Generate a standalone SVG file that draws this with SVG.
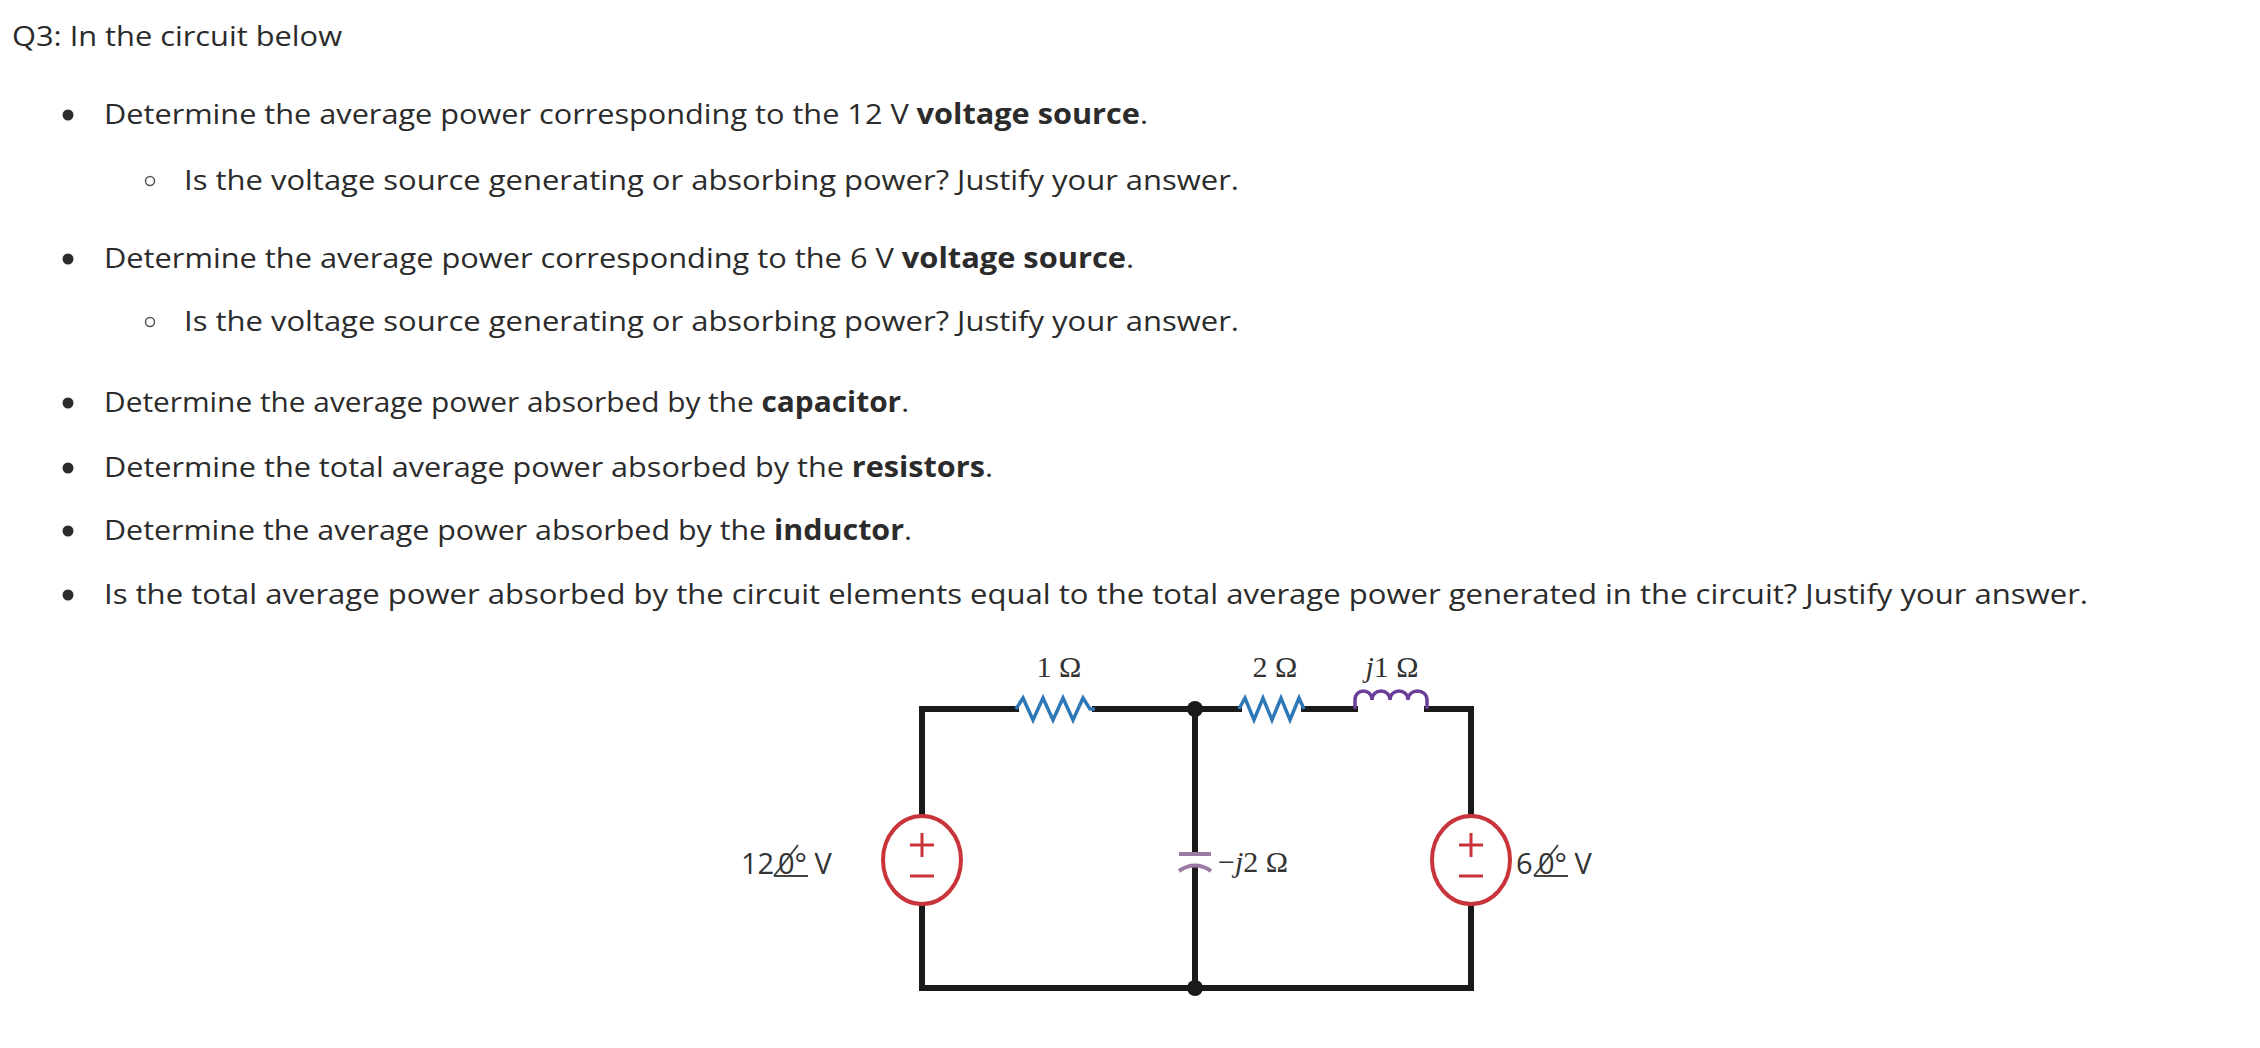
<svg xmlns="http://www.w3.org/2000/svg" width="2260" height="1048" viewBox="0 0 2260 1048">
<style>
.t{font-family:"Open Sans","Liberation Sans",sans-serif;font-size:28px;fill:#2b2b2b}
b,.b{font-weight:bold}
.w{stroke:#1a1a1a;stroke-width:6;fill:none;stroke-linecap:square}
.r{stroke:#2f78b8;stroke-width:3.5;fill:none;stroke-linejoin:miter}
.l{stroke:#6a3f9a;stroke-width:3.5;fill:none}
.src{stroke:#c8343a;stroke-width:4;fill:#fff}
.pm{stroke:#c8343a;stroke-width:3}
.c{font-family:"Liberation Serif",serif;font-size:30px;fill:#333}
.cs{font-family:"Open Sans","Liberation Sans",sans-serif;font-size:29px;fill:#333}
</style>
<rect width="2260" height="1048" fill="#fff"/>
<g id="text">
<text class="t" x="12" y="46" textLength="330" lengthAdjust="spacingAndGlyphs">Q3: In the circuit below</text>
<circle cx="68" cy="115" r="5.5" fill="#2b2b2b"/>
<text class="t" x="104" y="124" textLength="1044" lengthAdjust="spacingAndGlyphs">Determine the average power corresponding to the 12 V <tspan class="b">voltage source</tspan>.</text>
<circle cx="150" cy="181" r="4.5" fill="none" stroke="#555" stroke-width="1.5"/>
<text class="t" x="184" y="190" textLength="1055" lengthAdjust="spacingAndGlyphs">Is the voltage source generating or absorbing power? Justify your answer.</text>
<circle cx="68" cy="259" r="5.5" fill="#2b2b2b"/>
<text class="t" x="104" y="268" textLength="1030" lengthAdjust="spacingAndGlyphs">Determine the average power corresponding to the 6 V <tspan class="b">voltage source</tspan>.</text>
<circle cx="150" cy="322" r="4.5" fill="none" stroke="#555" stroke-width="1.5"/>
<text class="t" x="184" y="331" textLength="1055" lengthAdjust="spacingAndGlyphs">Is the voltage source generating or absorbing power? Justify your answer.</text>
<circle cx="68" cy="403" r="5.5" fill="#2b2b2b"/>
<text class="t" x="104" y="412" textLength="805" lengthAdjust="spacingAndGlyphs">Determine the average power absorbed by the <tspan class="b">capacitor</tspan>.</text>
<circle cx="68" cy="468" r="5.5" fill="#2b2b2b"/>
<text class="t" x="104" y="477" textLength="889" lengthAdjust="spacingAndGlyphs">Determine the total average power absorbed by the <tspan class="b">resistors</tspan>.</text>
<circle cx="68" cy="531" r="5.5" fill="#2b2b2b"/>
<text class="t" x="104" y="540" textLength="808" lengthAdjust="spacingAndGlyphs">Determine the average power absorbed by the <tspan class="b">inductor</tspan>.</text>
<circle cx="68" cy="595" r="5.5" fill="#2b2b2b"/>
<text class="t" x="104" y="604" textLength="1984" lengthAdjust="spacingAndGlyphs">Is the total average power absorbed by the circuit elements equal to the total average power generated in the circuit? Justify your answer.</text>
</g>
<g id="connectors">
<path class="w" d="M922 709 H1016 M1095 709 H1239 M1304 709 H1355 M1427 709 H1471 V818 M1471 902 V988 H922 V902 M922 818 V709"/>
<path class="w" d="M1195 709 V853 M1195 867 V988"/>
</g>
<g id="R1"><path class="r" d="M1016 709 L1023 698 L1033 720 L1043 698 L1053 720 L1063 698 L1073 720 L1083 698 L1090 709 H1095"/>
<text class="c" x="1059" y="677" text-anchor="middle">1 Ω</text></g>
<g id="R2"><path class="r" d="M1239 709 L1245 698 L1254 720 L1263 698 L1272 720 L1281 698 L1290 720 L1299 698 L1304 709"/>
<text class="c" x="1275" y="677" text-anchor="middle">2 Ω</text></g>
<g id="L1"><path class="l" d="M1355 709 V700 C1355 688 1372 688 1372 700 C1372 688 1390 688 1390 700 C1390 688 1408 688 1408 700 C1408 688 1427 688 1427 700 V709"/>
<text class="c" x="1392" y="677" text-anchor="middle"><tspan font-style="italic">j</tspan>1 Ω</text></g>
<g id="C1"><path stroke="#9b7aa6" stroke-width="4" fill="none" d="M1179 854 H1211 M1179 871 Q1195 860 1211 871"/>
<text class="c" x="1218" y="872"><tspan>−</tspan><tspan font-style="italic">j</tspan>2 Ω</text></g>
<g id="V12"><ellipse class="src" cx="922" cy="860" rx="39" ry="44"/>
<path class="pm" d="M922 833 V857 M910 845 H934 M910 876 H934"/>
<text class="cs" x="741" y="874">12</text><path d="M774 876 H808 M774 876 L798 845" stroke="#444" stroke-width="2" fill="none"/>
<text class="cs" x="778" y="874">0° V</text></g>
<g id="V6"><ellipse class="src" cx="1471" cy="860" rx="39" ry="44"/>
<path class="pm" d="M1471 833 V857 M1459 845 H1483 M1459 876 H1483"/>
<text class="cs" x="1516" y="874">6</text><path d="M1534 876 H1568 M1534 876 L1558 845" stroke="#444" stroke-width="2" fill="none"/>
<text class="cs" x="1538" y="874">0° V</text></g>
<g id="junctions"><circle cx="1195" cy="709" r="8" fill="#1a1a1a"/><circle cx="1195" cy="988" r="8" fill="#1a1a1a"/></g>
</svg>
